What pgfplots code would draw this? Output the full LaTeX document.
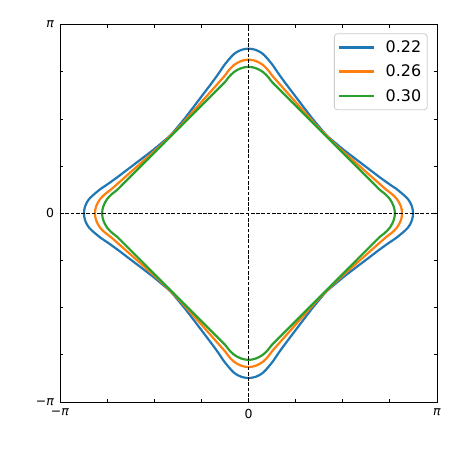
\documentclass[border=0pt]{standalone}
\usepackage{fontspec}
\setmainfont{DejaVu Sans}
\usepackage{pgfplots}
\pgfplotsset{compat=1.18}
\definecolor{tabblue}{HTML}{1F77B4}
\definecolor{taborange}{HTML}{FF7F0E}
\definecolor{tabgreen}{HTML}{2CA02C}
\begin{document}
\begin{tikzpicture}
\begin{axis}[name=ax, scale only axis, width=377bp, height=377.3bp,
  xmin=-3.14159, xmax=3.14159, ymin=-3.14159, ymax=3.14159,
  xtick={-3.14159,-2.35619,-1.5708,-0.785398,0,0.785398,1.5708,2.35619,3.14159},
  ytick={-3.14159,-2.35619,-1.5708,-0.785398,0,0.785398,1.5708,2.35619,3.14159},
  xticklabels={−\textit{π},,,,0,,,,\textit{π}},
  yticklabels={−\textit{π},,,,0,,,,\textit{π}},
  tick align=inside, major tick length=3.5bp,
  tick style={black, line width=0.8bp},
  axis line style={line width=0.8bp},
  tick label style={font=\fontsize{12.5}{14}\selectfont},
  xticklabel style={yshift=-3.5bp},
  yticklabel style={xshift=-2.5bp},
  legend style={at={(0.975,0.977)}, anchor=north east, draw=black!20,
    rounded corners=3bp, fill=white, fill opacity=0.8, text opacity=1,
    font=\fontsize{16}{18}\selectfont, line width=0.8bp,
    inner xsep=3bp, inner ysep=5bp, row sep=7bp,
    nodes={inner xsep=3bp, inner ysep=2bp}},
  legend cell align=left,
  legend image code/.code={\path[draw=none, fill=none] (0bp,-1bp) rectangle (44bp,1bp); \draw[#1, line width=2.6bp] (0bp,0bp) -- (35bp,0bp);},
]
\addplot[tabblue, line width=2.2bp, smooth] coordinates {
(2.743,0) (2.737,0.060) (2.722,0.120) (2.695,0.180) (2.655,0.240) (2.600,0.295) (2.535,0.350) (2.460,0.410) (2.320,0.505) (2.175,0.610) (2.030,0.720) (1.885,0.830) (1.740,0.940) (1.590,1.055) (1.445,1.175) (1.300,1.300)
(1.175,1.445) (1.055,1.590) (0.940,1.740) (0.830,1.885) (0.720,2.030) (0.610,2.175) (0.505,2.320) (0.410,2.460) (0.350,2.535) (0.295,2.600) (0.240,2.655) (0.180,2.695) (0.120,2.722) (0.060,2.737) (0,2.743)
(-0.060,2.737) (-0.120,2.722) (-0.180,2.695) (-0.240,2.655) (-0.295,2.600) (-0.350,2.535) (-0.410,2.460) (-0.505,2.320) (-0.610,2.175) (-0.720,2.030) (-0.830,1.885) (-0.940,1.740) (-1.055,1.590) (-1.175,1.445) (-1.300,1.300)
(-1.445,1.175) (-1.590,1.055) (-1.740,0.940) (-1.885,0.830) (-2.030,0.720) (-2.175,0.610) (-2.320,0.505) (-2.460,0.410) (-2.535,0.350) (-2.600,0.295) (-2.655,0.240) (-2.695,0.180) (-2.722,0.120) (-2.737,0.060) (-2.743,0)
(-2.737,-0.060) (-2.722,-0.120) (-2.695,-0.180) (-2.655,-0.240) (-2.600,-0.295) (-2.535,-0.350) (-2.460,-0.410) (-2.320,-0.505) (-2.175,-0.610) (-2.030,-0.720) (-1.885,-0.830) (-1.740,-0.940) (-1.590,-1.055) (-1.445,-1.175) (-1.300,-1.300)
(-1.175,-1.445) (-1.055,-1.590) (-0.940,-1.740) (-0.830,-1.885) (-0.720,-2.030) (-0.610,-2.175) (-0.505,-2.320) (-0.410,-2.460) (-0.350,-2.535) (-0.295,-2.600) (-0.240,-2.655) (-0.180,-2.695) (-0.120,-2.722) (-0.060,-2.737) (0,-2.743)
(0.060,-2.737) (0.120,-2.722) (0.180,-2.695) (0.240,-2.655) (0.295,-2.600) (0.350,-2.535) (0.410,-2.460) (0.505,-2.320) (0.610,-2.175) (0.720,-2.030) (0.830,-1.885) (0.940,-1.740) (1.055,-1.590) (1.175,-1.445) (1.300,-1.300)
(1.445,-1.175) (1.590,-1.055) (1.740,-0.940) (1.885,-0.830) (2.030,-0.720) (2.175,-0.610) (2.320,-0.505) (2.460,-0.410) (2.535,-0.350) (2.600,-0.295) (2.655,-0.240) (2.695,-0.180) (2.722,-0.120) (2.737,-0.060) (2.743,0)
};
\addlegendentry{0.22}
\addplot[taborange, line width=2.2bp, smooth] coordinates {
(2.560,0) (2.554,0.060) (2.538,0.120) (2.510,0.180) (2.472,0.240) (2.425,0.290) (2.368,0.340) (2.300,0.390) (2.180,0.495) (2.050,0.610) (1.915,0.730) (1.780,0.850) (1.645,0.970) (1.505,1.095) (1.400,1.195) (1.298,1.298)
(1.195,1.400) (1.095,1.505) (0.970,1.645) (0.850,1.780) (0.730,1.915) (0.610,2.050) (0.495,2.180) (0.390,2.300) (0.340,2.368) (0.290,2.425) (0.240,2.472) (0.180,2.510) (0.120,2.538) (0.060,2.554) (0,2.560)
(-0.060,2.554) (-0.120,2.538) (-0.180,2.510) (-0.240,2.472) (-0.290,2.425) (-0.340,2.368) (-0.390,2.300) (-0.495,2.180) (-0.610,2.050) (-0.730,1.915) (-0.850,1.780) (-0.970,1.645) (-1.095,1.505) (-1.195,1.400) (-1.298,1.298)
(-1.400,1.195) (-1.505,1.095) (-1.645,0.970) (-1.780,0.850) (-1.915,0.730) (-2.050,0.610) (-2.180,0.495) (-2.300,0.390) (-2.368,0.340) (-2.425,0.290) (-2.472,0.240) (-2.510,0.180) (-2.538,0.120) (-2.554,0.060) (-2.560,0)
(-2.554,-0.060) (-2.538,-0.120) (-2.510,-0.180) (-2.472,-0.240) (-2.425,-0.290) (-2.368,-0.340) (-2.300,-0.390) (-2.180,-0.495) (-2.050,-0.610) (-1.915,-0.730) (-1.780,-0.850) (-1.645,-0.970) (-1.505,-1.095) (-1.400,-1.195) (-1.298,-1.298)
(-1.195,-1.400) (-1.095,-1.505) (-0.970,-1.645) (-0.850,-1.780) (-0.730,-1.915) (-0.610,-2.050) (-0.495,-2.180) (-0.390,-2.300) (-0.340,-2.368) (-0.290,-2.425) (-0.240,-2.472) (-0.180,-2.510) (-0.120,-2.538) (-0.060,-2.554) (0,-2.560)
(0.060,-2.554) (0.120,-2.538) (0.180,-2.510) (0.240,-2.472) (0.290,-2.425) (0.340,-2.368) (0.390,-2.300) (0.495,-2.180) (0.610,-2.050) (0.730,-1.915) (0.850,-1.780) (0.970,-1.645) (1.095,-1.505) (1.195,-1.400) (1.298,-1.298)
(1.400,-1.195) (1.505,-1.095) (1.645,-0.970) (1.780,-0.850) (1.915,-0.730) (2.050,-0.610) (2.180,-0.495) (2.300,-0.390) (2.368,-0.340) (2.425,-0.290) (2.472,-0.240) (2.510,-0.180) (2.538,-0.120) (2.554,-0.060) (2.560,0)
};
\addlegendentry{0.26}
\addplot[tabgreen, line width=2.2bp, smooth] coordinates {
(2.440,0) (2.434,0.060) (2.418,0.120) (2.392,0.180) (2.355,0.240) (2.310,0.290) (2.255,0.340) (2.190,0.390) (2.085,0.495) (1.960,0.620) (1.830,0.750) (1.700,0.880) (1.565,1.015) (1.430,1.150) (1.360,1.220) (1.290,1.290)
(1.220,1.360) (1.150,1.430) (1.015,1.565) (0.880,1.700) (0.750,1.830) (0.620,1.960) (0.495,2.085) (0.390,2.190) (0.340,2.255) (0.290,2.310) (0.240,2.355) (0.180,2.392) (0.120,2.418) (0.060,2.434) (0,2.440)
(-0.060,2.434) (-0.120,2.418) (-0.180,2.392) (-0.240,2.355) (-0.290,2.310) (-0.340,2.255) (-0.390,2.190) (-0.495,2.085) (-0.620,1.960) (-0.750,1.830) (-0.880,1.700) (-1.015,1.565) (-1.150,1.430) (-1.220,1.360) (-1.290,1.290)
(-1.360,1.220) (-1.430,1.150) (-1.565,1.015) (-1.700,0.880) (-1.830,0.750) (-1.960,0.620) (-2.085,0.495) (-2.190,0.390) (-2.255,0.340) (-2.310,0.290) (-2.355,0.240) (-2.392,0.180) (-2.418,0.120) (-2.434,0.060) (-2.440,0)
(-2.434,-0.060) (-2.418,-0.120) (-2.392,-0.180) (-2.355,-0.240) (-2.310,-0.290) (-2.255,-0.340) (-2.190,-0.390) (-2.085,-0.495) (-1.960,-0.620) (-1.830,-0.750) (-1.700,-0.880) (-1.565,-1.015) (-1.430,-1.150) (-1.360,-1.220) (-1.290,-1.290)
(-1.220,-1.360) (-1.150,-1.430) (-1.015,-1.565) (-0.880,-1.700) (-0.750,-1.830) (-0.620,-1.960) (-0.495,-2.085) (-0.390,-2.190) (-0.340,-2.255) (-0.290,-2.310) (-0.240,-2.355) (-0.180,-2.392) (-0.120,-2.418) (-0.060,-2.434) (0,-2.440)
(0.060,-2.434) (0.120,-2.418) (0.180,-2.392) (0.240,-2.355) (0.290,-2.310) (0.340,-2.255) (0.390,-2.190) (0.495,-2.085) (0.620,-1.960) (0.750,-1.830) (0.880,-1.700) (1.015,-1.565) (1.150,-1.430) (1.220,-1.360) (1.290,-1.290)
(1.360,-1.220) (1.430,-1.150) (1.565,-1.015) (1.700,-0.880) (1.830,-0.750) (1.960,-0.620) (2.085,-0.495) (2.190,-0.390) (2.255,-0.340) (2.310,-0.290) (2.355,-0.240) (2.392,-0.180) (2.418,-0.120) (2.434,-0.060) (2.440,0)
};
\addlegendentry{0.30}
\addplot[black, line width=1bp, dash pattern=on 3.7bp off 1.6bp, forget plot] coordinates {(-3.14159,0) (3.14159,0)};
\addplot[black, line width=1bp, dash pattern=on 3.7bp off 1.6bp, forget plot] coordinates {(0,-3.14159) (0,3.14159)};
\end{axis}
\path ([shift={(-60bp,-72bp)}]ax.south west) rectangle ([shift={(36.7bp,24.7bp)}]ax.north east);
\end{tikzpicture}
\end{document}
